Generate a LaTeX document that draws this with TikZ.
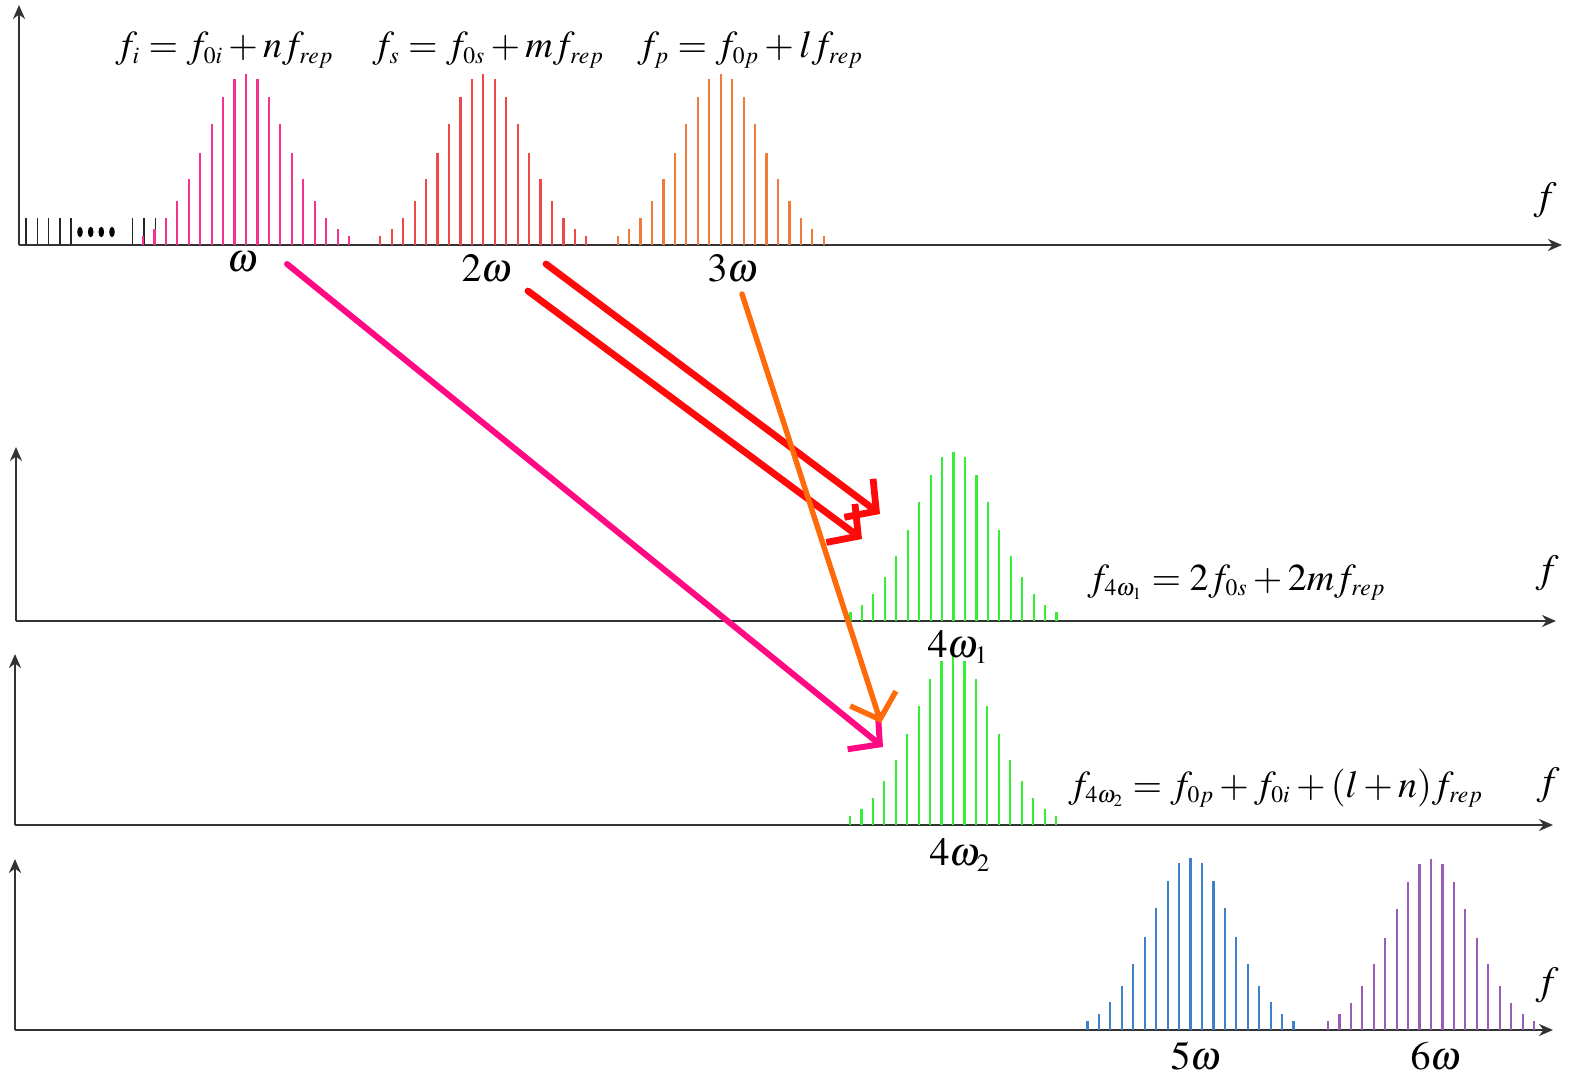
\documentclass[tikz,border=0pt]{standalone}
\usepackage{mathptmx}
\usetikzlibrary{arrows.meta}
\DeclareMathSizes{20}{20}{12.5}{9}
\DeclareMathSizes{19}{19}{11.8}{8.5}
\definecolor{axisgray}{HTML}{333333}
\definecolor{cpink}{HTML}{F5338F}
\definecolor{cred}{HTML}{F04848}
\definecolor{corange}{HTML}{F07A3A}
\definecolor{cgreen}{HTML}{33F033}
\definecolor{cblue}{HTML}{3D82C8}
\definecolor{cpurple}{HTML}{9A5CB8}
\definecolor{apink}{HTML}{FF0A82}
\definecolor{ared}{HTML}{FF0A0A}
\definecolor{aorange}{HTML}{FF6A0A}
\newcommand{\mycomb}[4]{%
  \foreach \h [count=\k from -9] in {9.3,16,27.3,44,65.7,92.3,120.7,147.7,165.7,170.7,165.7,147.7,120.7,92.3,65.7,44,27.3,16,9.3}
    \draw[comb,#3] ({#1+\k*11.45},#2) -- ++(0,{-\h*#4});}
\begin{document}
\begin{tikzpicture}[x=0.5pt,y=-0.5pt,
  axis/.style={line width=1.4pt, color=axisgray, -{Stealth[length=7pt,width=6pt]}},
  comb/.style={line width=1.1pt},
  tick/.style={line width=0.7pt, black!85},
  lbl/.style={font=\fontsize{20}{24}\selectfont, inner sep=0pt},
  frm/.style={font=\fontsize{19}{23}\selectfont, inner sep=0pt, anchor=base west},
  conv/.style={-{Straight Barb[length=11pt,width=24pt]}, line cap=round, line join=round}]
\useasboundingbox (0,0) rectangle (1570,1075);
% axes
\coordinate (o1) at (19,245);  \coordinate (y1) at (19,5);   \coordinate (x1) at (1562,245);
\coordinate (o2) at (16,621);  \coordinate (y2) at (16,447); \coordinate (x2) at (1556,621);
\coordinate (o3) at (15,825);  \coordinate (y3) at (15,654); \coordinate (x3) at (1553,825);
\coordinate (o4) at (15,1030); \coordinate (y4) at (15,859); \coordinate (x4) at (1553,1030);
\foreach \i in {1,2,3,4} {\draw[axis] (o\i) -- (y\i); \draw[axis] (o\i) -- (x\i);}
% black ticks and dots
\foreach \x in {26,37.3,48.7,60,71,132.7,144,155.3} \draw[tick] (\x,245) -- ++(0,-26.7);
\foreach \x in {80,90.7,101.3,112} \fill (\x,232) ellipse [x radius=1.4pt, y radius=2.6pt];
% combs
\mycomb{246}{245}{cpink}{1}
\mycomb{483.3}{245}{cred}{1}
\mycomb{720.7}{245}{corange}{1}
\mycomb{953.5}{621}{cgreen}{0.99}
\mycomb{953}{825}{cgreen}{0.99}
\mycomb{1190.5}{1030}{cblue}{1.01}
\mycomb{1431}{1030}{cpurple}{1}
% formulas
\node[frm] (fi) at (115,58) {$f_i = f_{0i} + nf_{rep}$};
\node[frm] (fs) at (372,58) {$f_s = f_{0s} + mf_{rep}$};
\node[frm] (fp) at (637,58) {$f_p = f_{0p} + lf_{rep}$};
\node[frm] (f41) at (1087,590) {$f_{4\omega_1} = 2f_{0s} + 2mf_{rep}$};
\node[frm] (f42) at (1068,797) {$f_{4\omega_2} = f_{0p} + f_{0i} + (l+n)f_{rep}$};
% harmonic labels
\node[lbl, anchor=base] (w1) at (243,272) {$\omega$};
\node[lbl, anchor=base] (w2) at (487,282) {$2\omega$};
\node[lbl, anchor=base] (w3) at (733,282) {$3\omega$};
\node[lbl, anchor=base] (w41) at (958,657) {$4\omega_1$};
\node[lbl, anchor=base] (w42) at (960,865) {$4\omega_2$};
\node[lbl, anchor=base] (w5) at (1196,1069) {$5\omega$};
\node[lbl, anchor=base] (w6) at (1436,1069) {$6\omega$};
% axis f labels
\node[lbl] (fa1) at (1545,200) {$f$};
\node[lbl] (fa2) at (1547,573) {$f$};
\node[lbl] (fa3) at (1548,785) {$f$};
\node[lbl] (fa4) at (1547,985) {$f$};
% conversion arrows
\coordinate (pS) at (287,264);   \coordinate (pE) at (883,747);
\coordinate (r1S) at (546,264);  \coordinate (r1E) at (880,514);
\coordinate (r2S) at (528,291);  \coordinate (r2E) at (862,539);
\coordinate (oS) at (742,294);   \coordinate (oE) at (881,723);
\draw[conv, apink, line width=3pt] (pS) -- (pE);
\draw[conv, ared, line width=3.4pt] (r1S) -- (r1E);
\draw[conv, ared, line width=3.4pt] (r2S) -- (r2E);
\draw[conv, aorange, line width=2.7pt] (oS) -- (oE);
\end{tikzpicture}
\end{document}
